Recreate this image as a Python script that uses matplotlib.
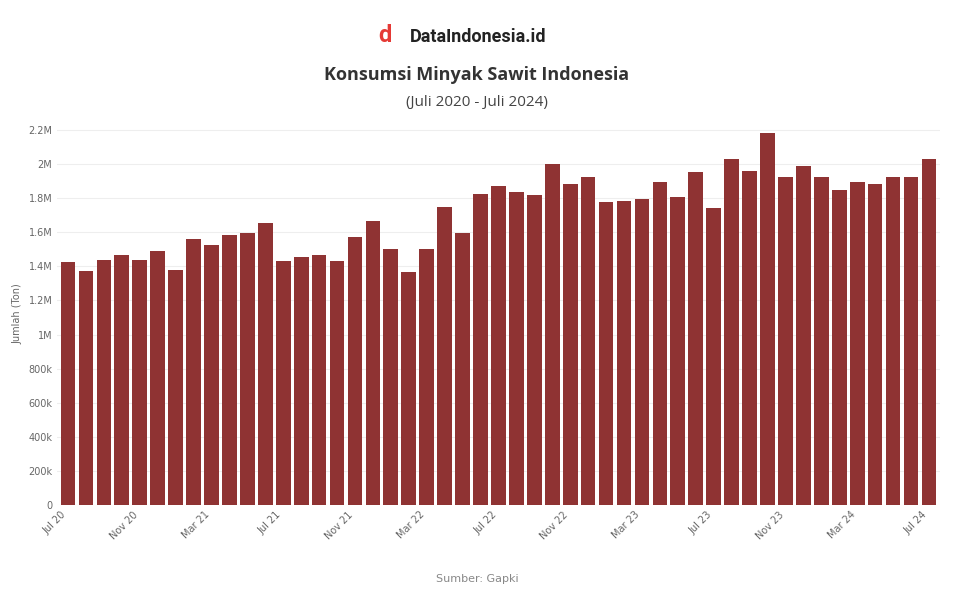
import matplotlib.pyplot as plt
import numpy as np

months = ['Jan', 'Feb', 'Mar', 'Apr', 'Mei', 'Jun', 'Jul', 'Agu', 'Sep', 'Okt', 'Nov', 'Des']
periods = []
for i in range(49):
    m = (6 + i) % 12
    y = 2020 + (6 + i) // 12
    periods.append(f'{months[m]} {y % 100}')

# ribu ton
konsumsi = [1423, 1371, 1435, 1465, 1435, 1488, 1376, 1559, 1523, 1582, 1594, 1653,
            1429, 1453, 1465, 1429, 1570, 1665, 1500, 1365, 1500, 1747, 1594, 1823,
            1870, 1835, 1818, 2000, 1882, 1923, 1776, 1782, 1794, 1894, 1806, 1953,
            1741, 2029, 1959, 2182, 1923, 1988, 1923, 1847, 1894, 1882, 1923, 1923,
            2029]
yticks = [0, 200, 400, 600, 800, 1000, 1200, 1400, 1600, 1800, 2000, 2200]
ytick_labels = ['0', '200k', '400k', '600k', '800k', '1M', '1.2M', '1.4M', '1.6M', '1.8M', '2M', '2.2M']

fig = plt.figure(figsize=(9.54, 5.96), dpi=100)
ax = fig.add_axes([0.06, 0.153, 0.925, 0.64])
x = np.arange(len(konsumsi))
ax.bar(x, konsumsi, width=0.82, color='#8f3333')
ax.set_xlim(-0.6, len(konsumsi) - 0.4)
ax.set_ylim(0, 2240)
ax.set_yticks(yticks)
ax.set_yticklabels(ytick_labels, fontsize=7, color='#666666')
ax.set_xticks(x[::4])
ax.set_xticklabels(periods[::4], rotation=45, ha='right', fontsize=7, color='#666666')
ax.tick_params(length=0)
ax.grid(axis='y', color='#eeeeee', linewidth=0.8)
ax.set_axisbelow(True)
for s in ax.spines.values():
    s.set_visible(False)
ax.set_ylabel('Jumlah (Ton)', fontsize=7, color='#666666')

fig.text(0.5, 0.024, 'Sumber: Gapki', ha='center', fontsize=8, color='#888888')
fig.text(0.5, 0.865, 'Konsumsi Minyak Sawit Indonesia', ha='center', fontsize=13,
         fontweight='bold', color='#333333', family='Open Sans')
fig.text(0.5, 0.822, '(Juli 2020 - Juli 2024)', ha='center', fontsize=11, color='#444444',
         family='Open Sans')
fig.text(0.43, 0.93, 'DataIndonesia.id', ha='left', fontsize=13, fontweight='bold',
         color='#222222', family='Roboto')
fig.text(0.404, 0.93, 'd', ha='center', fontsize=17, fontweight='bold', color='#e53935',
         family='Roboto')
fig.savefig('out.png')
